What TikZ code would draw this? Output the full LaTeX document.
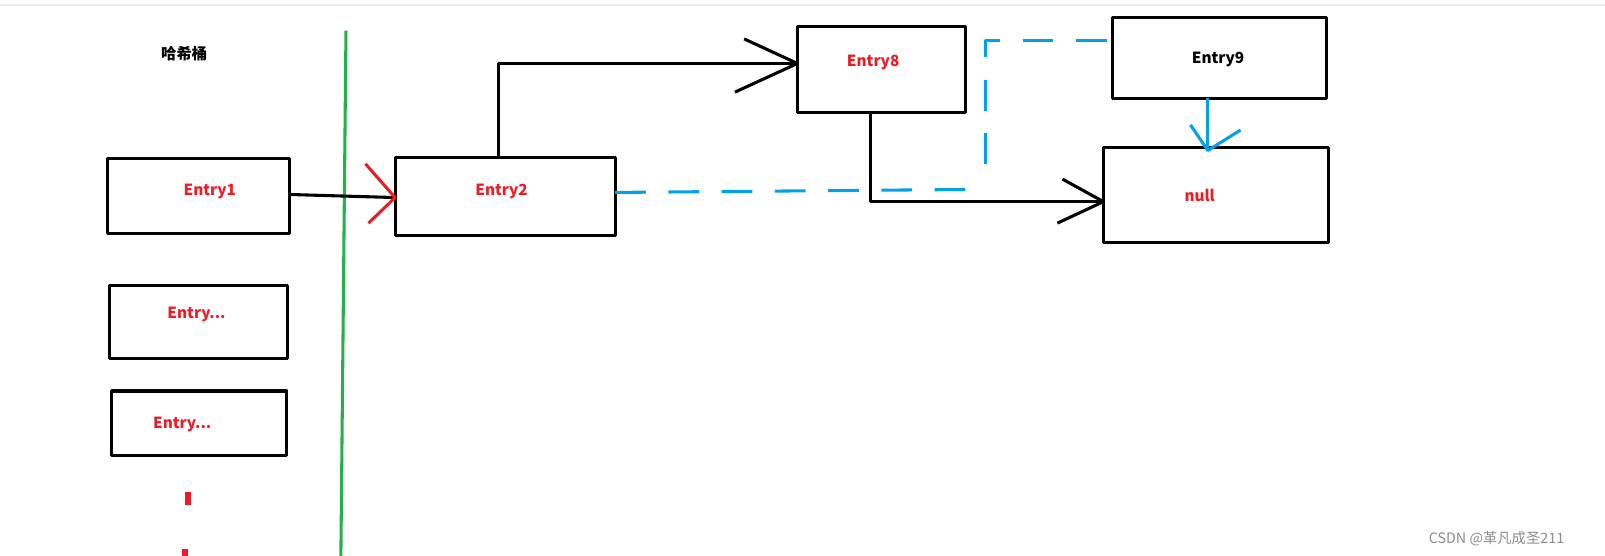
\documentclass[tikz,border=0pt]{standalone}
\usepackage{fontspec}
\setmainfont{Noto Sans CJK SC}
\definecolor{rd}{RGB}{237,28,36}
\definecolor{bl}{RGB}{0,162,232}
\definecolor{gr}{RGB}{34,177,76}
\begin{document}
\begin{tikzpicture}[x=1pt,y=-1pt,line join=round,
  box/.style={draw,line width=3pt,minimum width=0pt},
  lbl/.style={font=\fontsize{15}{17}\selectfont\bfseries,text=rd},
  bk/.style={line width=3pt},
  bd/.style={line width=3pt,color=bl,dash pattern=on 30pt off 22pt}]
\useasboundingbox (0,0) rectangle (1568,543);
\draw[black!8,line width=2pt] (0,5) -- (1568,5);
\draw[box] (105,155) rectangle (283,228); \node[lbl] (e1) at (205,187) {Entry1};
\draw[box] (107,279) rectangle (281,350); \node[lbl] (e3) at (192,307) {Entry...};
\draw[box] (109,382) rectangle (280,445); \node[lbl] (e4) at (178,415) {Entry...};
\draw[box] (386,154) rectangle (601,230); \node[lbl] (e2) at (490,187) {Entry2};
\draw[box] (779,26) rectangle (943,110); \node[lbl] (e8) at (853,61) {Entry8};
\draw[box] (1087,17) rectangle (1296,96); \node[lbl,text=black] (e9) at (1190,58) {Entry9};
\draw[box] (1078,144) rectangle (1298,237); \node[lbl] (nl) at (1172,191) {null};
\node[font=\fontsize{15}{17}\selectfont\bfseries] (hx) at (180,52) {哈希桶};
\draw[gr,line width=3pt] (338,30) -- (333,545);
\fill[rd] (181,481) rectangle (187,493);
\fill[rd] (178,536) rectangle (184,546);
\draw[bk] (283,190) -- (386,193);
\draw[rd,line width=3pt] (357,160) -- (386,193) -- (360,218);
\draw[bk] (487,154) -- (487,62) -- (779,62);
\draw[bk] (727,38) -- (779,62) -- (718,90);
\draw[bk] (850,110) -- (850,197) -- (1078,197);
\draw[bk] (1038,175) -- (1078,197) -- (1033,218);
\draw[bd] (601,188) -- (957,185);
\draw[bd] (963,160) -- (963,40) -- (1087,40);
\draw[bl,line width=3pt] (1180,96) -- (1180,147);
\draw[bl,line width=3pt] (1163,122) -- (1180,147) -- (1212,127);
\node[text=black!45,font=\fontsize{14}{16}\selectfont] (wm) at (1462,526) {CSDN @革凡成圣211};
\end{tikzpicture}
\end{document}
